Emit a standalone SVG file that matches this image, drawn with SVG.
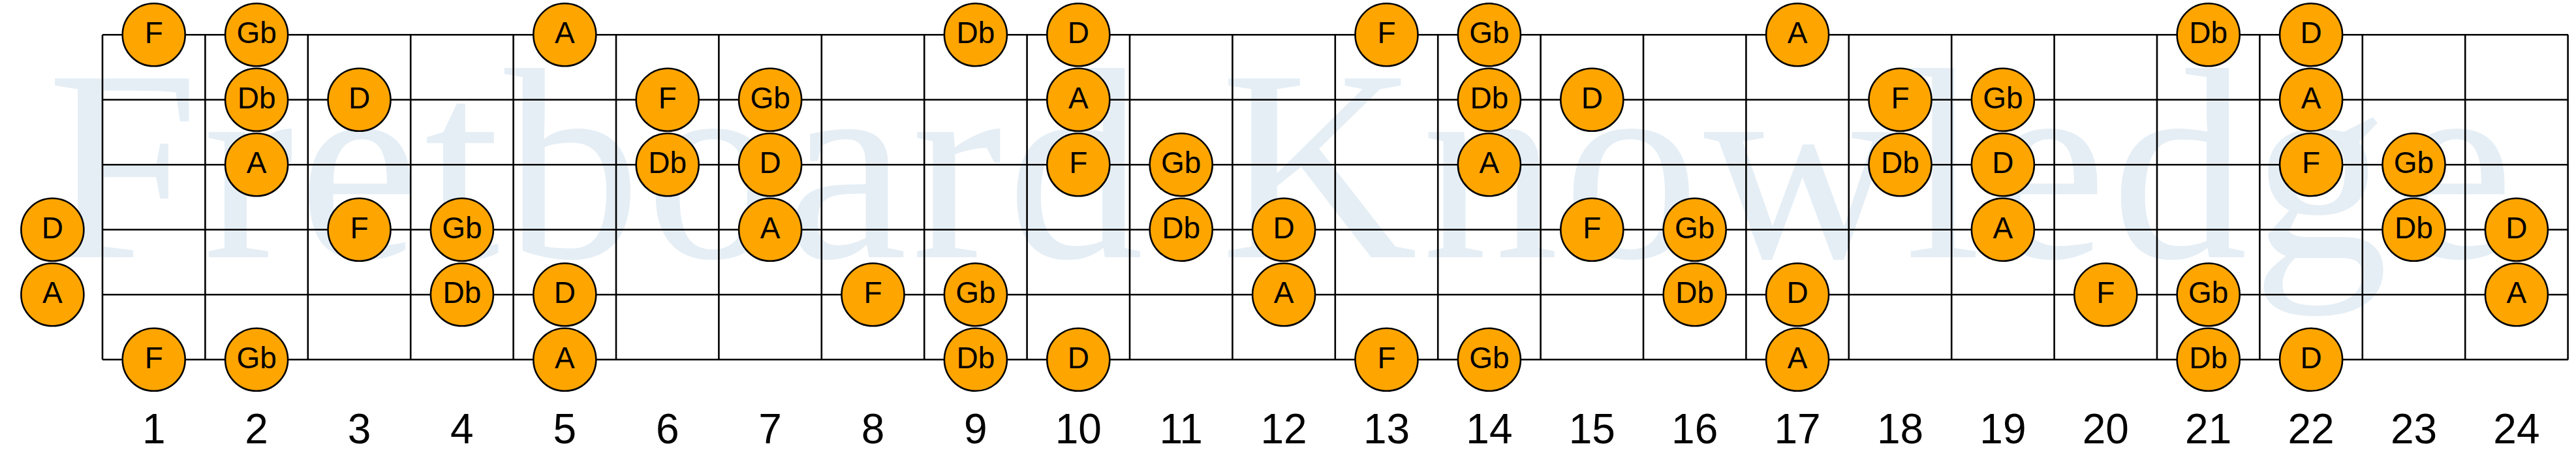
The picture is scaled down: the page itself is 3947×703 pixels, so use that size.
<svg xmlns="http://www.w3.org/2000/svg" width="3947" height="703" viewBox="0 0 3947 703">
<style>
.wm{font-family:"Liberation Serif","Times New Roman",serif;font-size:418px;fill:#e5eef5}
.grid line{stroke:#000;stroke-width:2.6}
.note circle{fill:#ffa500;stroke:#000;stroke-width:2.6}
.note text{font-family:"Liberation Sans",Arial,sans-serif;font-size:46px;fill:#000;text-anchor:middle}
.num{font-family:"Liberation Sans",Arial,sans-serif;font-size:64px;fill:#000;text-anchor:middle}
</style>
<rect width="3947" height="703" fill="#fff"/>
<text class="wm" x="72" y="394" textLength="3780" lengthAdjust="spacing">Fretboard Knowledge</text>
<g id="connectors" class="grid">
<line x1="157" y1="53.3" x2="3935" y2="53.3"/>
<line x1="157" y1="152.8" x2="3935" y2="152.8"/>
<line x1="157" y1="252.3" x2="3935" y2="252.3"/>
<line x1="157" y1="351.8" x2="3935" y2="351.8"/>
<line x1="157" y1="451.3" x2="3935" y2="451.3"/>
<line x1="157" y1="550.8" x2="3935" y2="550.8"/>
<line x1="157" y1="53.3" x2="157" y2="550.8"/>
<line x1="314.4" y1="53.3" x2="314.4" y2="550.8"/>
<line x1="471.8" y1="53.3" x2="471.8" y2="550.8"/>
<line x1="629.2" y1="53.3" x2="629.2" y2="550.8"/>
<line x1="786.6" y1="53.3" x2="786.6" y2="550.8"/>
<line x1="944" y1="53.3" x2="944" y2="550.8"/>
<line x1="1101.4" y1="53.3" x2="1101.4" y2="550.8"/>
<line x1="1258.8" y1="53.3" x2="1258.8" y2="550.8"/>
<line x1="1416.2" y1="53.3" x2="1416.2" y2="550.8"/>
<line x1="1573.6" y1="53.3" x2="1573.6" y2="550.8"/>
<line x1="1731" y1="53.3" x2="1731" y2="550.8"/>
<line x1="1888.4" y1="53.3" x2="1888.4" y2="550.8"/>
<line x1="2045.8" y1="53.3" x2="2045.8" y2="550.8"/>
<line x1="2203.2" y1="53.3" x2="2203.2" y2="550.8"/>
<line x1="2360.6" y1="53.3" x2="2360.6" y2="550.8"/>
<line x1="2518" y1="53.3" x2="2518" y2="550.8"/>
<line x1="2675.4" y1="53.3" x2="2675.4" y2="550.8"/>
<line x1="2832.8" y1="53.3" x2="2832.8" y2="550.8"/>
<line x1="2990.2" y1="53.3" x2="2990.2" y2="550.8"/>
<line x1="3147.6" y1="53.3" x2="3147.6" y2="550.8"/>
<line x1="3305" y1="53.3" x2="3305" y2="550.8"/>
<line x1="3462.4" y1="53.3" x2="3462.4" y2="550.8"/>
<line x1="3619.8" y1="53.3" x2="3619.8" y2="550.8"/>
<line x1="3777.2" y1="53.3" x2="3777.2" y2="550.8"/>
<line x1="3934.6" y1="53.3" x2="3934.6" y2="550.8"/>
</g>
<g id="notes">
<!-- row 0 -->
<g id="r0f1" class="note"><circle cx="235.7" cy="53.3" r="48"/><text x="235.7" y="66">F</text></g>
<g id="r0f2" class="note"><circle cx="393.1" cy="53.3" r="48"/><text x="393.1" y="66">Gb</text></g>
<g id="r0f5" class="note"><circle cx="865.3" cy="53.3" r="48"/><text x="865.3" y="66">A</text></g>
<g id="r0f9" class="note"><circle cx="1494.9" cy="53.3" r="48"/><text x="1494.9" y="66">Db</text></g>
<g id="r0f10" class="note"><circle cx="1652.3" cy="53.3" r="48"/><text x="1652.3" y="66">D</text></g>
<g id="r0f13" class="note"><circle cx="2124.5" cy="53.3" r="48"/><text x="2124.5" y="66">F</text></g>
<g id="r0f14" class="note"><circle cx="2281.9" cy="53.3" r="48"/><text x="2281.9" y="66">Gb</text></g>
<g id="r0f17" class="note"><circle cx="2754.1" cy="53.3" r="48"/><text x="2754.1" y="66">A</text></g>
<g id="r0f21" class="note"><circle cx="3383.7" cy="53.3" r="48"/><text x="3383.7" y="66">Db</text></g>
<g id="r0f22" class="note"><circle cx="3541.1" cy="53.3" r="48"/><text x="3541.1" y="66">D</text></g>
<!-- row 1 -->
<g id="r1f2" class="note"><circle cx="393.1" cy="152.8" r="48"/><text x="393.1" y="165.5">Db</text></g>
<g id="r1f3" class="note"><circle cx="550.5" cy="152.8" r="48"/><text x="550.5" y="165.5">D</text></g>
<g id="r1f6" class="note"><circle cx="1022.7" cy="152.8" r="48"/><text x="1022.7" y="165.5">F</text></g>
<g id="r1f7" class="note"><circle cx="1180.1" cy="152.8" r="48"/><text x="1180.1" y="165.5">Gb</text></g>
<g id="r1f10" class="note"><circle cx="1652.3" cy="152.8" r="48"/><text x="1652.3" y="165.5">A</text></g>
<g id="r1f14" class="note"><circle cx="2281.9" cy="152.8" r="48"/><text x="2281.9" y="165.5">Db</text></g>
<g id="r1f15" class="note"><circle cx="2439.3" cy="152.8" r="48"/><text x="2439.3" y="165.5">D</text></g>
<g id="r1f18" class="note"><circle cx="2911.5" cy="152.8" r="48"/><text x="2911.5" y="165.5">F</text></g>
<g id="r1f19" class="note"><circle cx="3068.9" cy="152.8" r="48"/><text x="3068.9" y="165.5">Gb</text></g>
<g id="r1f22" class="note"><circle cx="3541.1" cy="152.8" r="48"/><text x="3541.1" y="165.5">A</text></g>
<!-- row 2 -->
<g id="r2f2" class="note"><circle cx="393.1" cy="252.3" r="48"/><text x="393.1" y="265">A</text></g>
<g id="r2f6" class="note"><circle cx="1022.7" cy="252.3" r="48"/><text x="1022.7" y="265">Db</text></g>
<g id="r2f7" class="note"><circle cx="1180.1" cy="252.3" r="48"/><text x="1180.1" y="265">D</text></g>
<g id="r2f10" class="note"><circle cx="1652.3" cy="252.3" r="48"/><text x="1652.3" y="265">F</text></g>
<g id="r2f11" class="note"><circle cx="1809.7" cy="252.3" r="48"/><text x="1809.7" y="265">Gb</text></g>
<g id="r2f14" class="note"><circle cx="2281.9" cy="252.3" r="48"/><text x="2281.9" y="265">A</text></g>
<g id="r2f18" class="note"><circle cx="2911.5" cy="252.3" r="48"/><text x="2911.5" y="265">Db</text></g>
<g id="r2f19" class="note"><circle cx="3068.9" cy="252.3" r="48"/><text x="3068.9" y="265">D</text></g>
<g id="r2f22" class="note"><circle cx="3541.1" cy="252.3" r="48"/><text x="3541.1" y="265">F</text></g>
<g id="r2f23" class="note"><circle cx="3698.5" cy="252.3" r="48"/><text x="3698.5" y="265">Gb</text></g>
<!-- row 3 -->
<g id="r3f0" class="note"><circle cx="80.4" cy="351.8" r="48"/><text x="80.4" y="364.5">D</text></g>
<g id="r3f3" class="note"><circle cx="550.5" cy="351.8" r="48"/><text x="550.5" y="364.5">F</text></g>
<g id="r3f4" class="note"><circle cx="707.9" cy="351.8" r="48"/><text x="707.9" y="364.5">Gb</text></g>
<g id="r3f7" class="note"><circle cx="1180.1" cy="351.8" r="48"/><text x="1180.1" y="364.5">A</text></g>
<g id="r3f11" class="note"><circle cx="1809.7" cy="351.8" r="48"/><text x="1809.7" y="364.5">Db</text></g>
<g id="r3f12" class="note"><circle cx="1967.1" cy="351.8" r="48"/><text x="1967.1" y="364.5">D</text></g>
<g id="r3f15" class="note"><circle cx="2439.3" cy="351.8" r="48"/><text x="2439.3" y="364.5">F</text></g>
<g id="r3f16" class="note"><circle cx="2596.7" cy="351.8" r="48"/><text x="2596.7" y="364.5">Gb</text></g>
<g id="r3f19" class="note"><circle cx="3068.9" cy="351.8" r="48"/><text x="3068.9" y="364.5">A</text></g>
<g id="r3f23" class="note"><circle cx="3698.5" cy="351.8" r="48"/><text x="3698.5" y="364.5">Db</text></g>
<g id="r3f24" class="note"><circle cx="3855.9" cy="351.8" r="48"/><text x="3855.9" y="364.5">D</text></g>
<!-- row 4 -->
<g id="r4f0" class="note"><circle cx="80.4" cy="451.3" r="48"/><text x="80.4" y="464">A</text></g>
<g id="r4f4" class="note"><circle cx="707.9" cy="451.3" r="48"/><text x="707.9" y="464">Db</text></g>
<g id="r4f5" class="note"><circle cx="865.3" cy="451.3" r="48"/><text x="865.3" y="464">D</text></g>
<g id="r4f8" class="note"><circle cx="1337.5" cy="451.3" r="48"/><text x="1337.5" y="464">F</text></g>
<g id="r4f9" class="note"><circle cx="1494.9" cy="451.3" r="48"/><text x="1494.9" y="464">Gb</text></g>
<g id="r4f12" class="note"><circle cx="1967.1" cy="451.3" r="48"/><text x="1967.1" y="464">A</text></g>
<g id="r4f16" class="note"><circle cx="2596.7" cy="451.3" r="48"/><text x="2596.7" y="464">Db</text></g>
<g id="r4f17" class="note"><circle cx="2754.1" cy="451.3" r="48"/><text x="2754.1" y="464">D</text></g>
<g id="r4f20" class="note"><circle cx="3226.3" cy="451.3" r="48"/><text x="3226.3" y="464">F</text></g>
<g id="r4f21" class="note"><circle cx="3383.7" cy="451.3" r="48"/><text x="3383.7" y="464">Gb</text></g>
<g id="r4f24" class="note"><circle cx="3855.9" cy="451.3" r="48"/><text x="3855.9" y="464">A</text></g>
<!-- row 5 -->
<g id="r5f1" class="note"><circle cx="235.7" cy="550.8" r="48"/><text x="235.7" y="563.5">F</text></g>
<g id="r5f2" class="note"><circle cx="393.1" cy="550.8" r="48"/><text x="393.1" y="563.5">Gb</text></g>
<g id="r5f5" class="note"><circle cx="865.3" cy="550.8" r="48"/><text x="865.3" y="563.5">A</text></g>
<g id="r5f9" class="note"><circle cx="1494.9" cy="550.8" r="48"/><text x="1494.9" y="563.5">Db</text></g>
<g id="r5f10" class="note"><circle cx="1652.3" cy="550.8" r="48"/><text x="1652.3" y="563.5">D</text></g>
<g id="r5f13" class="note"><circle cx="2124.5" cy="550.8" r="48"/><text x="2124.5" y="563.5">F</text></g>
<g id="r5f14" class="note"><circle cx="2281.9" cy="550.8" r="48"/><text x="2281.9" y="563.5">Gb</text></g>
<g id="r5f17" class="note"><circle cx="2754.1" cy="550.8" r="48"/><text x="2754.1" y="563.5">A</text></g>
<g id="r5f21" class="note"><circle cx="3383.7" cy="550.8" r="48"/><text x="3383.7" y="563.5">Db</text></g>
<g id="r5f22" class="note"><circle cx="3541.1" cy="550.8" r="48"/><text x="3541.1" y="563.5">D</text></g>
</g>
<g id="fret-numbers">
<text class="num" x="235.7" y="679">1</text>
<text class="num" x="393.1" y="679">2</text>
<text class="num" x="550.5" y="679">3</text>
<text class="num" x="707.9" y="679">4</text>
<text class="num" x="865.3" y="679">5</text>
<text class="num" x="1022.7" y="679">6</text>
<text class="num" x="1180.1" y="679">7</text>
<text class="num" x="1337.5" y="679">8</text>
<text class="num" x="1494.9" y="679">9</text>
<text class="num" x="1652.3" y="679">10</text>
<text class="num" x="1809.7" y="679">11</text>
<text class="num" x="1967.1" y="679">12</text>
<text class="num" x="2124.5" y="679">13</text>
<text class="num" x="2281.9" y="679">14</text>
<text class="num" x="2439.3" y="679">15</text>
<text class="num" x="2596.7" y="679">16</text>
<text class="num" x="2754.1" y="679">17</text>
<text class="num" x="2911.5" y="679">18</text>
<text class="num" x="3068.9" y="679">19</text>
<text class="num" x="3226.3" y="679">20</text>
<text class="num" x="3383.7" y="679">21</text>
<text class="num" x="3541.1" y="679">22</text>
<text class="num" x="3698.5" y="679">23</text>
<text class="num" x="3855.9" y="679">24</text>
</g>
</svg>
